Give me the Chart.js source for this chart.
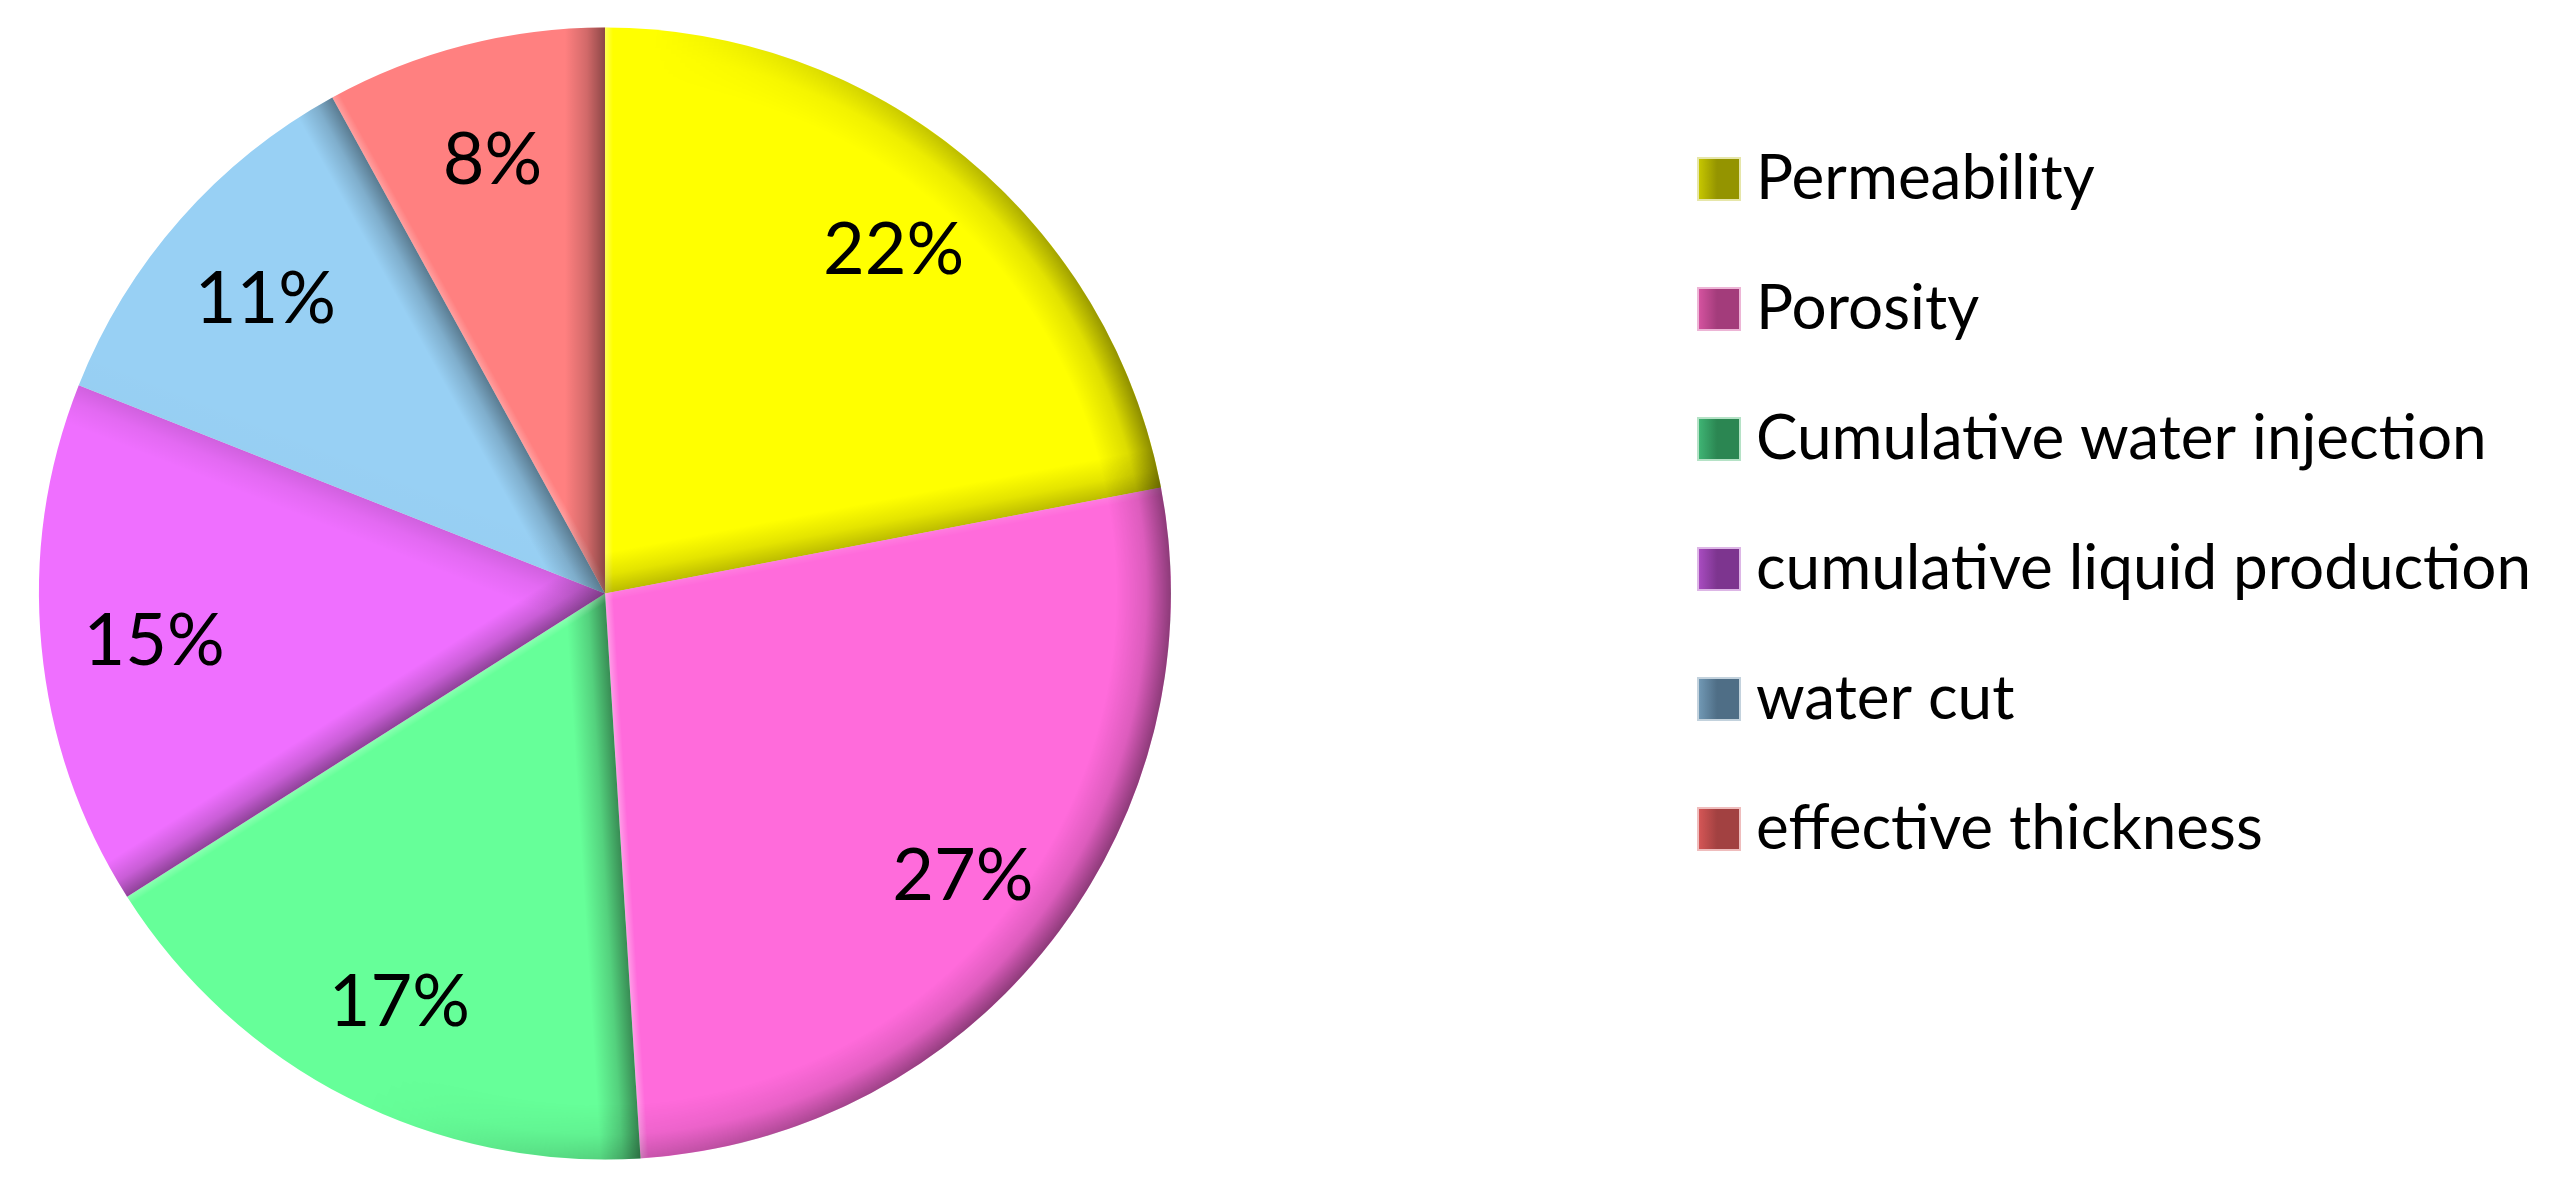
<!DOCTYPE html>
<html>
<head>
<meta charset="utf-8">
<script src="https://cdn.jsdelivr.net/npm/chart.js@4.4.1/dist/chart.umd.min.js"></script>
<style>
html, body { margin: 0; padding: 0; background: #ffffff; }
#wrap { width: 2557px; height: 1201px; position: relative; overflow: hidden; }
canvas { display: block; }
</style>
</head>
<body>
<div id="wrap"><canvas id="chart" width="2557" height="1201"></canvas></div>
<script>
// ---- data ----
const categories = [
  'Permeability',
  'Porosity',
  'Cumulative water injection',
  'cumulative liquid production',
  'water cut',
  'effective thickness'
];
const shares = [22, 27, 17, 15, 11, 8];
const percentLabels = shares.map(v => v + '%');

// ---- styles ----
const sliceColors = ['#FFFF00', '#FF6BDB', '#66FF99', '#EF6FFF', '#98D0F4', '#FF8080'];
const legendLight = ['#C6C600', '#D4539F', '#3FB474', '#A84CC0', '#7198B4', '#D45656'];
const legendDark  = ['#949400', '#A33C7B', '#2B8652', '#7D358F', '#4F6E86', '#A24141'];
const legendRim   = ['#E6E6AA', '#EDB5D6', '#B5E2C6', '#DDB6E6', '#C3D2DD', '#EFBDBD'];

const PIE_CENTER_X = 605;   // horizontal centre of the pie inside the canvas

function makeSwatch(i) {
  const c = document.createElement('canvas');
  c.width = 46; c.height = 44;
  const g = c.getContext('2d');
  g.fillStyle = legendRim[i];
  g.fillRect(0, 0, 44, 44);
  const lg = g.createLinearGradient(2, 0, 42, 0);
  lg.addColorStop(0, legendLight[i]);
  lg.addColorStop(0.45, legendDark[i]);
  lg.addColorStop(1, legendDark[i]);
  g.fillStyle = lg;
  g.fillRect(2, 2, 40, 40);
  return c;
}
const swatches = categories.map((_, i) => makeSwatch(i));

// keep the pie on the left while the legend sits at the right
const placePlugin = {
  id: 'place',
  afterLayout(chart) {
    const a = chart.chartArea;
    const left = 2 * PIE_CENTER_X - a.right;
    a.left = left;
    a.width = a.right - left;
  }
};

// bevel-like shading of the slices + percentage labels
const bevelPlugin = {
  id: 'bevel',
  afterDatasetsDraw(chart) {
    const ctx = chart.ctx;
    const meta = chart.getDatasetMeta(0);
    const A = 0.45, W = 40, WR = 55;
    const shade = (nx, ny) => Math.max(-1, Math.min(1, nx + 0.25 * ny + 0.15));
    let cx = 0, cy = 0, R = 0;
    meta.data.forEach(arc => {
      const p = arc.getProps(['x', 'y', 'startAngle', 'endAngle', 'outerRadius'], true);
      cx = p.x; cy = p.y; R = p.outerRadius;
      ctx.save();
      ctx.beginPath();
      ctx.moveTo(p.x, p.y);
      ctx.arc(p.x, p.y, p.outerRadius, p.startAngle, p.endAngle);
      ctx.closePath();
      ctx.clip();
      [[p.startAngle, 1], [p.endAngle, -1]].forEach(([phi, s]) => {
        const nx = s * Math.sin(phi), ny = -s * Math.cos(phi);
        const f = shade(nx, ny);
        let g;
        if (f > 0) {
          g = ctx.createLinearGradient(p.x, p.y, p.x - nx * W, p.y - ny * W);
          g.addColorStop(0, `rgba(0,0,0,${A * f})`);
          g.addColorStop(0.45, `rgba(0,0,0,${A * f * 0.4})`);
          g.addColorStop(1, 'rgba(0,0,0,0)');
        } else {
          g = ctx.createLinearGradient(p.x, p.y, p.x - nx * 8, p.y - ny * 8);
          g.addColorStop(0, `rgba(255,255,255,${0.4 * (-f)})`);
          g.addColorStop(1, 'rgba(255,255,255,0)');
        }
        ctx.fillStyle = g;
        ctx.fillRect(p.x - p.outerRadius - 5, p.y - p.outerRadius - 5, 2 * p.outerRadius + 10, 2 * p.outerRadius + 10);
      });
      ctx.restore();
    });
    // outer rim
    const off = document.createElement('canvas');
    off.width = chart.width; off.height = chart.height;
    const o = off.getContext('2d');
    const cg = o.createConicGradient(0, cx, cy);
    const N = 72;
    for (let k = 0; k <= N; k++) {
      const phi = k / N * Math.PI * 2;
      const f = Math.max(0, shade(Math.cos(phi), Math.sin(phi)));
      cg.addColorStop(k / N, `rgba(0,0,0,${A * f})`);
    }
    o.fillStyle = cg;
    o.beginPath(); o.arc(cx, cy, R, 0, Math.PI * 2); o.fill();
    o.globalCompositeOperation = 'destination-in';
    const rg = o.createRadialGradient(cx, cy, R - WR, cx, cy, R);
    rg.addColorStop(0, 'rgba(0,0,0,0)');
    rg.addColorStop(0.55, 'rgba(0,0,0,0.3)');
    rg.addColorStop(1, 'rgba(0,0,0,1)');
    o.fillStyle = rg;
    o.fillRect(0, 0, off.width, off.height);
    ctx.drawImage(off, 0, 0);

    // percentage labels
    ctx.save();
    ctx.font = '72px Lato';
    ctx.fillStyle = '#000000';
    ctx.textAlign = 'center';
    ctx.textBaseline = 'middle';
    meta.data.forEach((arc, i) => {
      const p = arc.getProps(['x', 'y', 'startAngle', 'endAngle', 'outerRadius'], true);
      const mid = (p.startAngle + p.endAngle) / 2;
      const r = p.outerRadius * 0.8;
      ctx.fillText(percentLabels[i], p.x + r * Math.cos(mid), p.y + r * Math.sin(mid) + 6);
    });
    ctx.restore();
  }
};

new Chart(document.getElementById('chart'), {
  type: 'pie',
  data: {
    labels: categories,
    datasets: [{
      data: shares,
      backgroundColor: sliceColors,
      borderWidth: 0,
      radius: 566
    }]
  },
  options: {
    responsive: false,
    devicePixelRatio: 1,
    animation: false,
    events: [],
    layout: { padding: { left: 0, right: 16, top: 80, bottom: 94 } },
    plugins: {
      tooltip: { enabled: false },
      legend: {
        position: 'right',
        align: 'start',
        labels: {
          usePointStyle: true,
          pointStyleWidth: 10,
          boxHeight: 40,
          padding: 68,
          color: '#000000',
          font: { family: 'Lato', size: 62 },
          generateLabels: (chart) => categories.map((t, i) => ({
            text: t,
            fillStyle: legendDark[i],
            strokeStyle: legendDark[i],
            lineWidth: 0,
            pointStyle: swatches[i],
            hidden: false,
            index: i
          }))
        }
      }
    }
  },
  plugins: [placePlugin, bevelPlugin]
});
</script>
</body>
</html>
